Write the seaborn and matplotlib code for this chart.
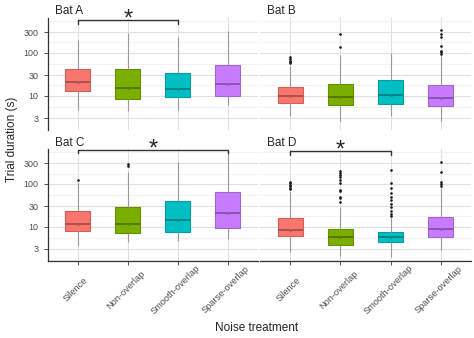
import matplotlib
matplotlib.use("Agg")
import matplotlib.pyplot as plt
import numpy as np
import pandas as pd
import seaborn as sns
from matplotlib.ticker import FixedLocator, NullFormatter
from matplotlib.transforms import ScaledTranslation

sns.set_style("white")
plt.rcParams["font.family"] = ["Liberation Sans", "DejaVu Sans"]

TREATMENTS = ["Silence", "Non-overlap", "Smooth-overlap", "Sparse-overlap"]
BATS = ["Bat A", "Bat B", "Bat C", "Bat D"]
PALETTE = ["#F8766D", "#7CAE00", "#00BFC4", "#C77CFF"]

# Trial duration (s) per treatment: lower whisker, Q1, median, Q3, upper whisker
bat_a = [[4.6, 12.7, 20.3, 41, 195], [4.3, 8.2, 14.7, 41, 280],
         [4.6, 9.2, 14.1, 34, 233], [6.0, 9.9, 18.2, 51, 320]]
bat_b = [[3.3, 6.8, 9.7, 15.5, 48], [2.6, 6.0, 9.4, 18.5, 88],
         [3.3, 6.4, 10.5, 22.6, 96], [2.6, 5.9, 8.7, 17.5, 85]]
bat_c = [[3.6, 8.1, 11.4, 23.7, 103], [4.3, 7.0, 11.2, 29, 190],
         [4.7, 7.6, 13.9, 40.5, 316], [5.1, 9.4, 21.3, 64.5, 600]]
bat_d = [[2.6, 5.9, 8.4, 15.8, 66], [2.1, 3.8, 5.6, 8.9, 29.4],
         [2.0, 4.4, 5.7, 7.4, 16], [2.8, 5.7, 8.7, 16.3, 78]]

# Outlying trials per treatment
bat_a_out = [[], [], [], []]
bat_b_out = [[56, 60, 65, 70, 77], [137, 264], [],
             [92, 101, 109, 145, 233, 264, 335]]
bat_c_out = [[123], [255, 285], [], []]
bat_d_out = [[74, 80, 87, 95, 104, 112],
             [38, 46, 50, 66, 72, 106, 123, 142, 160, 181, 202],
             [17.8, 19.8, 23.7, 28, 34, 42, 50, 60, 79, 103, 210],
             [88, 97, 112, 185, 316]]

# Significance brackets
sig_bats = ["Bat A", "Bat C", "Bat D"]
sig_from = ["Silence", "Silence", "Silence"]
sig_to = ["Smooth-overlap", "Sparse-overlap", "Smooth-overlap"]
sig_top = [571, 611, 579]
sig_tip = [459, 529, 468]

Y_TICKS = [3, 10, 30, 100, 300]
Y_MINOR = [1.64, 5.48, 17.3, 54.8, 173, 548]

stats = dict(zip(BATS, [bat_a, bat_b, bat_c, bat_d]))
outs = dict(zip(BATS, [bat_a_out, bat_b_out, bat_c_out, bat_d_out]))

rows, out_rows, mid_rows = [], [], []
for bat in BATS:
    for t, five, ol in zip(TREATMENTS, stats[bat], outs[bat]):
        for v in five:
            rows.append((bat, t, v))
        for v in ol:
            out_rows.append((bat, t, v))
        mid_rows.append((bat, t, five[2]))
df = pd.DataFrame(rows, columns=["bat", "treatment", "duration"])
out_df = pd.DataFrame(out_rows, columns=["bat", "treatment", "duration"])
mid_df = pd.DataFrame(mid_rows, columns=["bat", "treatment", "duration"])


def shade(hex_color, f):
    r, g, b = matplotlib.colors.to_rgb(hex_color)
    return (r * f, g * f, b * f)


W, H = 474, 338
fig = plt.figure(figsize=(W / 100, H / 100), dpi=100)
panel_px = {
    "Bat A": (47.7, 18.0, 210.3, 112.0),
    "Bat B": (260.0, 18.0, 211.0, 112.0),
    "Bat C": (47.7, 149.3, 210.3, 111.4),
    "Bat D": (260.0, 149.3, 211.0, 111.4),
}

for bat in BATS:
    x0, y0, w, h = panel_px[bat]
    ax = fig.add_axes([x0 / W, 1 - (y0 + h) / H, w / W, h / H])
    is_left = bat in ("Bat A", "Bat C")
    is_bottom = bat in ("Bat C", "Bat D")

    for i, t in enumerate(TREATMENTS):
        sub = df[(df.bat == bat) & (df.treatment == t)]
        fill = PALETTE[i]
        sns.boxplot(data=sub, x="treatment", y="duration", order=TREATMENTS,
                    ax=ax, width=0.5, whis=(0, 100), log_scale=True,
                    color=fill, saturation=1, showfliers=False,
                    showcaps=False, linewidth=0.8,
                    linecolor=shade(fill, 0.82),
                    whiskerprops=dict(color="#9a9a9a", linewidth=0.8),
                    medianprops=dict(color=shade(fill, 0.6), linewidth=1.1))

    sub_mid = mid_df[mid_df.bat == bat]
    sns.stripplot(data=sub_mid, x="treatment", y="duration", order=TREATMENTS,
                  hue="treatment", hue_order=TREATMENTS,
                  palette=[shade(c, 0.75) for c in PALETTE], ax=ax,
                  jitter=False, size=2.2, linewidth=0, legend=False,
                  log_scale=True, zorder=5)

    sub_out = out_df[out_df.bat == bat]
    if len(sub_out):
        sns.stripplot(data=sub_out, x="treatment", y="duration",
                      order=TREATMENTS, ax=ax, color="#1a1a1a", jitter=False,
                      size=1.9, linewidth=0, log_scale=True, zorder=4)

    ax.set_yscale("log")
    ax.set_ylim(1.6, 635)
    ax.set_xlim(-0.6, 3.6)
    ax.yaxis.set_major_locator(FixedLocator(Y_TICKS))
    ax.set_yticklabels([str(v) for v in Y_TICKS])
    ax.yaxis.set_minor_locator(FixedLocator(Y_MINOR))
    ax.yaxis.set_minor_formatter(NullFormatter())
    ax.set_xticks(range(len(TREATMENTS)))
    ax.set_xticklabels(TREATMENTS)
    ax.set_xlabel("")
    ax.set_ylabel("")
    ax.set_axisbelow(True)
    ax.grid(True, which="major", color="#e0e0e0", linewidth=0.8)
    ax.grid(True, which="minor", axis="y", color="#efefef", linewidth=0.5)
    ax.tick_params(axis="y", which="minor", length=0)

    for s in ax.spines.values():
        s.set_visible(False)
        s.set_color("#333333")
        s.set_linewidth(0.9)
    ax.spines["left"].set_visible(is_left)
    ax.spines["bottom"].set_visible(is_bottom)

    ax.tick_params(axis="y", which="major", left=is_left, labelleft=is_left,
                   length=3, width=0.6, color="#333333", labelsize=6.4,
                   labelcolor="#4d4d4d", pad=3.5)
    ax.tick_params(axis="x", bottom=is_bottom, labelbottom=is_bottom,
                   length=3, width=0.6, color="#333333", labelsize=6.7,
                   labelcolor="#4d4d4d", pad=18)
    if is_bottom:
        for lab in ax.get_xticklabels():
            lab.set_rotation(45)
            lab.set_ha("center")
            lab.set_va("center")
            lab.set_rotation_mode("anchor")
            lab.set_transform(lab.get_transform() +
                              ScaledTranslation(-0.02, 0, fig.dpi_scale_trans))

    ax.text(0.035, 1.062 if not is_bottom else 1.059, bat,
            transform=ax.transAxes, ha="left", va="center", fontsize=8.5)

    for sb, a, b, top, tip in zip(sig_bats, sig_from, sig_to, sig_top, sig_tip):
        if sb != bat:
            continue
        xa, xb = TREATMENTS.index(a), TREATMENTS.index(b)
        ax.plot([xa, xa, xb, xb], [tip, top, top, tip], color="#333333",
                linewidth=1.0, clip_on=False, zorder=6)
        ax.annotate("*", xy=((xa + xb) / 2, top), xytext=(0, 0.5),
                    textcoords="offset points", ha="center", va="center",
                    fontsize=17, annotation_clip=False)

fig.text(12 / W, 1 - 139 / H, "Trial duration (s)", rotation=90,
         ha="center", va="center", fontsize=8.5)
fig.text(257 / W, 1 - 328 / H, "Noise treatment", ha="center", va="center",
         fontsize=8.5)

fig.savefig("out.png", dpi=100)
